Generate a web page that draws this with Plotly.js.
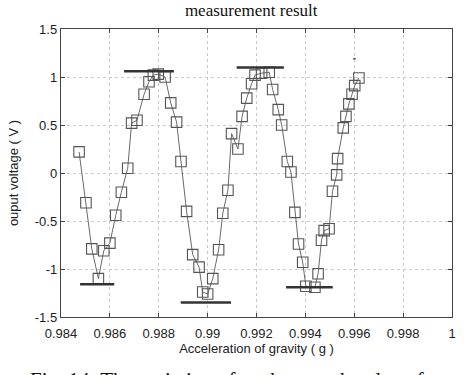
<!DOCTYPE html>
<html>
<head>
<meta charset="utf-8">
<script src="https://cdn.plot.ly/plotly-3.0.1.min.js"></script>
<style>html,body{margin:0;padding:0;background:#fff;overflow:hidden;}</style>
</head>
<body>
<div id="chart" style="width:474px;height:375px;"></div>
<script>
// measured series
var gravity = [0.98474,0.98502,0.98526,0.98553,0.98575,0.98600,0.98624,0.98647,0.98673,0.98689,0.98711,0.98740,0.98760,0.98778,0.98798,0.98826,
  0.98849,0.98873,0.98891,0.98914,0.98939,0.98965,0.98980,0.99000,0.99021,0.99045,0.99062,0.99083,0.99098,0.99124,0.99141,0.99160,0.99180,0.99194,0.99221,0.99252,
  0.99266,0.99289,0.99303,0.99326,0.99341,0.99357,0.99372,0.99389,0.99402,0.99439,0.99452,0.99466,0.99477,0.99497,0.99511,0.99528,0.99532,0.99555,0.99566,0.99578,0.99591,0.99602,0.99619];
var voltage = [0.22,-0.31,-0.79,-1.10,-0.81,-0.73,-0.44,-0.20,0.05,0.52,0.55,0.82,0.95,1.02,1.03,1.00,
  0.73,0.53,0.12,-0.40,-0.85,-0.98,-1.24,-1.26,-1.10,-0.80,-0.42,-0.18,0.41,0.25,0.59,0.78,0.93,1.02,1.04,1.05,
  0.87,0.66,0.50,0.12,0.01,-0.41,-0.74,-0.93,-1.18,-1.19,-1.05,-0.70,-0.60,-0.58,-0.19,-0.02,0.15,0.47,0.59,0.72,0.82,0.91,0.99];
// peak marker bars: [start, end] and level
var peakStart = [0.98478,0.98658,0.98890,0.99119,0.99321];
var peakEnd   = [0.98618,0.98862,0.99096,0.99312,0.99512];
var peakLevel = [-1.16,1.06,-1.35,1.10,-1.19];
var strayX = [0.99595,0.99606];
var strayY = [1.19,1.19];

var xTicks = [0.984,0.986,0.988,0.99,0.992,0.994,0.996,0.998,1];
var xTickText = ['0.984','0.986','0.988','0.99','0.992','0.994','0.996','0.998','1'];
var yTicks = [-1.5,-1,-0.5,0,0.5,1,1.5];
var yTickText = ['-1.5','-1','-0.5','0','0.5','1','1.5'];

var traces = [{
  x: gravity, y: voltage, type: 'scatter', mode: 'lines+markers',
  line: {color: '#6a6a6a', width: 1},
  marker: {symbol: 'square-open', size: 10.5, color: '#555', line: {width: 1.1, color: '#555'}},
  showlegend: false, hoverinfo: 'skip'
}];
for (var i = 0; i < peakLevel.length; i++) {
  traces.push({
    x: [peakStart[i], peakEnd[i]], y: [peakLevel[i], peakLevel[i]],
    type: 'scatter', mode: 'lines', line: {color: '#333', width: 2.5},
    showlegend: false, hoverinfo: 'skip'
  });
}
traces.push({x: strayX, y: strayY, type: 'scatter', mode: 'lines', line: {color: '#555', width: 1.5}, showlegend: false, hoverinfo: 'skip'});

var axisFont = {family: 'Liberation Sans, Arial, sans-serif', size: 13, color: '#222'};
var layout = {
  width: 474, height: 375,
  margin: {l: 61, r: 22, t: 29, b: 58},
  paper_bgcolor: '#fff', plot_bgcolor: '#fff',
  title: {text: 'measurement result', font: {family: 'Liberation Serif, Times New Roman, serif', size: 17, color: '#111'},
          x: 0.53, xanchor: 'center', y: 0.972, yanchor: 'middle'},
  xaxis: {
    range: [0.984, 1], tickvals: xTicks, ticktext: xTickText,
    ticks: 'inside', ticklen: 4, tickcolor: '#444', mirror: 'ticks',
    showline: true, linecolor: '#444', linewidth: 1.2,
    showgrid: true, gridcolor: '#c8c8c8', griddash: 'dot', gridwidth: 1,
    zeroline: false, tickfont: axisFont, ticklabelstandoff: 4,
    title: {text: 'Acceleration of gravity ( g )', font: axisFont, standoff: 4}
  },
  yaxis: {
    range: [-1.5, 1.5], tickvals: yTicks, ticktext: yTickText,
    ticks: 'inside', ticklen: 4, tickcolor: '#444', mirror: 'ticks',
    showline: true, linecolor: '#444', linewidth: 1.2,
    showgrid: true, gridcolor: '#c8c8c8', griddash: 'dot', gridwidth: 1,
    zeroline: false, tickfont: axisFont,
    title: {text: 'ouput voltage ( V )', font: axisFont, standoff: 13}
  },
  annotations: [{
    text: 'Fig. 14: The variation of peak-to-peak value of output',
    xref: 'paper', yref: 'paper', x: -0.085, y: -0.17, xanchor: 'left', yanchor: 'top',
    showarrow: false, font: {family: 'Liberation Serif, Times New Roman, serif', size: 21, color: '#111'}
  }]
};
Plotly.newPlot('chart', traces, layout, {displayModeBar: false, staticPlot: true});
</script>
</body>
</html>
